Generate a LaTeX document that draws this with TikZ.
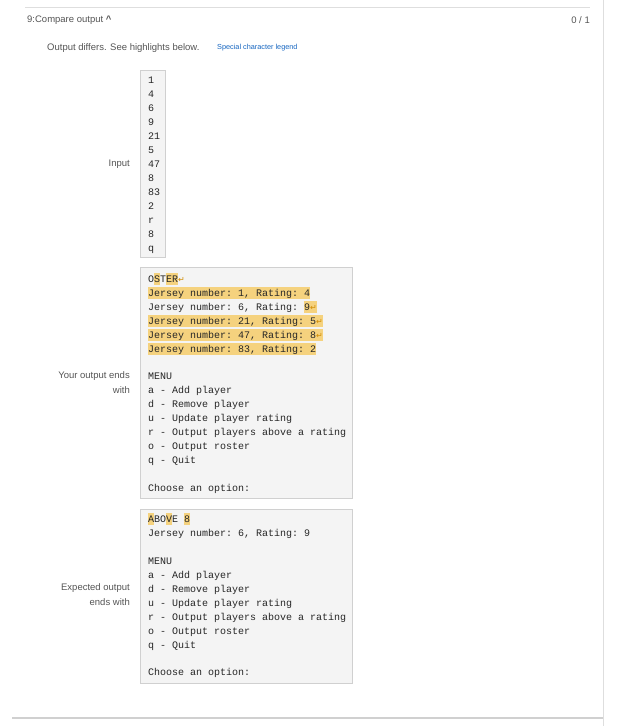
\documentclass[tikz,border=0pt]{standalone}
\usepackage{fontspec}
\setmainfont{Liberation Sans}
\setmonofont{Liberation Mono}
\newfontfamily\arrfont{DejaVu Sans}
\definecolor{hl}{HTML}{F5D27E}
\definecolor{boxbg}{HTML}{F4F4F4}
\definecolor{boxln}{HTML}{D0D0D0}
\definecolor{txt}{HTML}{555555}
\definecolor{lnk}{HTML}{1565C0}
\definecolor{cr}{HTML}{D08A00}
\newcommand{\hlx}[1]{{\setlength{\fboxsep}{0pt}\colorbox{hl}{\rule[-3pt]{0pt}{12pt}#1}}}
\newcommand{\crx}{{\arrfont\fontsize{8}{9}\selectfont\textcolor{cr}{↵}}}
\begin{document}
\begin{tikzpicture}[x=1pt,y=-1pt,
  lab/.style={font=\fontsize{9.5}{11}\selectfont, text=txt, inner sep=0pt},
  mono/.style={font=\ttfamily\fontsize{10}{14}\selectfont, text=black!85, inner sep=0pt, anchor=base west},
  box/.style={draw=boxln, fill=boxbg, line width=0.8pt}]
\useasboundingbox (0,0) rectangle (626,726);
\draw[boxln!70, line width=0.8pt] (25,7) -- (590,7);
\draw[boxln!70, line width=0.8pt] (603,0) -- (603,726);
\draw[boxln, line width=1.2pt] (12,718) -- (603,718);
\node[lab, anchor=west] (title) at (27,20) {9:Compare output \textbf{\^{}}};
\node[lab, anchor=east] (score) at (590,20) {0 / 1};
\node[lab, anchor=west] (diff) at (47,48) {Output differs. See highlights below.};
\node[lab, anchor=west, text=lnk, font=\fontsize{7.3}{8}\selectfont] (legend) at (217,48) {Special character legend};
% input
\draw[box] (140,70) rectangle (165,257);
\foreach \t [count=\i] in {1,4,6,9,21,5,47,8,83,2,r,8,q}
  \node[mono] (in\i) at (148,66+14*\i+3) {\t};
\node[lab, anchor=east] (inl) at (130,164) {Input};
% your output
\draw[box] (140,267) rectangle (352,498);
\node[mono] (y1) at (148,282) {O\hlx{S}T\hlx{ER}\crx};
\node[mono] (y2) at (148,296) {\hlx{Jersey number: 1, Rating: }\hlx{4}};
\node[mono] (y3) at (148,310) {Jersey number: 6, Rating: \hlx{9\crx}};
\node[mono] (y4) at (148,324) {\hlx{Jersey number: 21, Rating: 5\crx}};
\node[mono] (y5) at (148,338) {\hlx{Jersey number: 47, Rating: 8\crx}};
\node[mono] (y6) at (148,352) {\hlx{Jersey number: 83, Rating: }\hlx{2}};
\foreach \t [count=\i] in {MENU,a - Add player,d - Remove player,u - Update player rating,r - Output players above a rating,o - Output roster,q - Quit}
  \node[mono] (ym\i) at (148,365+14*\i) {\t};
\node[mono] (yc) at (148,491) {Choose an option:};
\node[lab, anchor=east] (yl1) at (130,376) {Your output ends};
\node[lab, anchor=east] (yl2) at (130,390) {with};
% expected
\draw[box] (140,509) rectangle (352,683);
\node[mono] (e1) at (148,522) {\hlx{A}BO\hlx{V}E \hlx{8}};
\node[mono] (e2) at (148,536) {Jersey number: 6, Rating: 9};
\foreach \t [count=\i] in {MENU,a - Add player,d - Remove player,u - Update player rating,r - Output players above a rating,o - Output roster,q - Quit}
  \node[mono] (em\i) at (148,550+14*\i) {\t};
\node[mono] (ec) at (148,675) {Choose an option:};
\node[lab, anchor=east] (el1) at (130,588) {Expected output};
\node[lab, anchor=east] (el2) at (130,602) {ends with};
\end{tikzpicture}
\end{document}
